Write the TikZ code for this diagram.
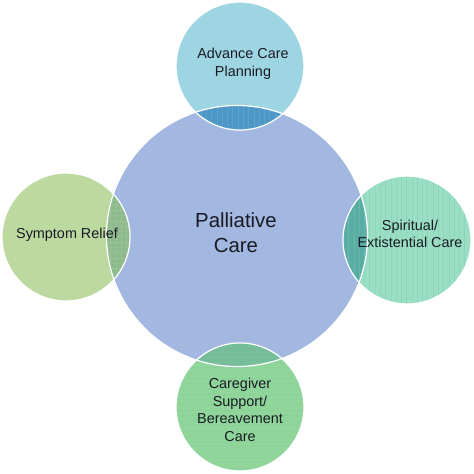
\documentclass[tikz,border=0pt]{standalone}
\usepackage{fontspec}
\setmainfont{Liberation Sans}
\usetikzlibrary{patterns}

\begin{document}
\begin{tikzpicture}[x=0.02cm, y=-0.02cm]
    \definecolor{careblue}{HTML}{A3B8E0}
    \definecolor{plancyan}{HTML}{9ED5E2}
    \definecolor{planover}{HTML}{4C97C6}
    \definecolor{symgreen}{HTML}{BCDAA0}
    \definecolor{symover}{HTML}{8DB98E}
    \definecolor{spirmint}{HTML}{9ADFC4}
    \definecolor{spirover}{HTML}{5AADA5}
    \definecolor{givegreen}{HTML}{90D69A}
    \definecolor{giveover}{HTML}{74BC9A}
    \definecolor{inktext}{HTML}{1A1A24}
    \tikzset{
        satellite/.style={circle, minimum size=2.56cm, inner sep=0pt},
        hub/.style={circle, minimum size=5.22cm, inner sep=0pt},
        caretext/.style={align=center, text=inktext, font=\fontsize{8.2}{10}\selectfont},
        hubtext/.style={align=center, text=inktext, font=\fontsize{11.6}{14}\selectfont}
    }

    \fill[white] (0,0) rectangle (474,474);
    \useasboundingbox (0,0) rectangle (474,474);

    % central circle
    \node[hub, fill=careblue] (pc) at (237,236) {};

    % outer circles
    \node[satellite, fill=plancyan] (acp) at (240,66) {};
    \node[satellite, fill=symgreen] (sr) at (66,237) {};
    \node[satellite, fill=spirmint] (sec) at (407,240) {};
    \node[satellite, fill=givegreen] (cgs) at (240,407) {};

    % stripes
    \fill[pattern=vertical lines, pattern color=spirmint!80!spirover] (sec.center) circle[radius=64];
    \fill[pattern=horizontal lines, pattern color=givegreen!80!giveover] (cgs.center) circle[radius=64];

    % overlaps
    \begin{scope}
        \clip (pc.center) circle[radius=130.5];
        \fill[planover] (acp.center) circle[radius=64];
        \fill[pattern=vertical lines, pattern color=planover!80!plancyan] (acp.center) circle[radius=64];
        \fill[symover] (sr.center) circle[radius=64];
        \fill[pattern=grid, pattern color=symover!75!symgreen] (sr.center) circle[radius=64];
        \fill[spirover] (sec.center) circle[radius=64];
        \fill[pattern=vertical lines, pattern color=spirover!80!spirmint] (sec.center) circle[radius=64];
        \fill[giveover] (cgs.center) circle[radius=64];
        \fill[pattern=horizontal lines, pattern color=giveover!80!givegreen] (cgs.center) circle[radius=64];
    \end{scope}

    % outlines
    \foreach \c/\r in {pc/130.5, acp/64, sr/64, sec/64, cgs/64}
        \draw[white, line width=0.7pt] (\c.center) circle[radius=\r];

    % labels
    \node[hubtext] (pct) at (236,233) {Palliative\\Care};
    \node[caretext] (acpt) at (243,64) {Advance Care\\Planning};
    \node[caretext] (srt) at (67,235) {Symptom Relief};
    \node[caretext] (sect) at (410,234) {Spiritual/\\Extistential Care};
    \node[caretext] (cgst) at (240,410) {Caregiver\\Support/\\Bereavement\\Care};
\end{tikzpicture}
\end{document}
